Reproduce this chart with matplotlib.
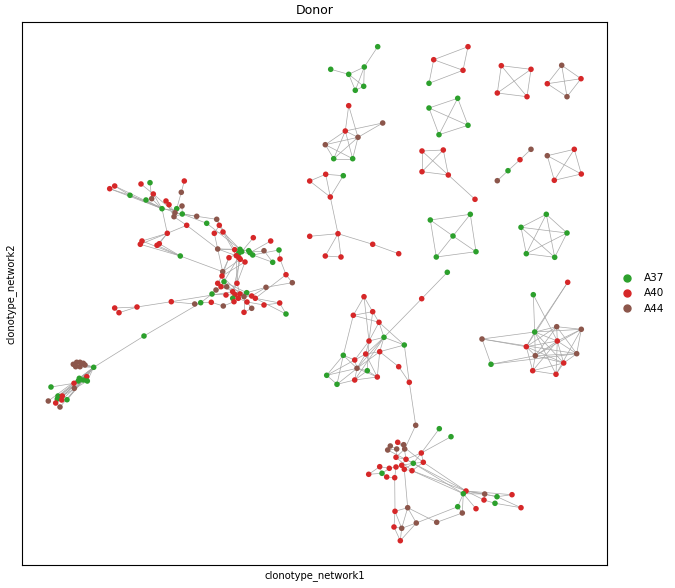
import matplotlib
matplotlib.use("Agg")
import matplotlib.pyplot as plt
from matplotlib.lines import Line2D
from matplotlib.collections import LineCollection

# layout coordinates of the clonotype network, y grows downwards
node_x = [
    # small clusters, top right
    377.7, 330.7, 348.7, 364.3, 355.3, 363.7,
    468.0, 433.7, 463.0, 429.0,
    501.3, 531.0, 497.3, 527.0,
    561.7, 581.0, 547.3, 567.0,
    457.7, 429.0, 468.0, 439.0,
    348.7, 345.3, 382.7, 358.0, 325.3, 333.7, 352.7,
    422.0, 443.3, 422.0, 448.3, 475.0,
    531.0, 520.0, 508.0, 497.3,
    574.3, 547.3, 581.3, 554.3,
    325.7, 309.7, 343.3, 330.3, 338.0, 309.7, 325.3, 341.0, 372.7, 398.7,
    430.3, 470.3, 453.0, 436.3, 476.0,
    546.3, 521.0, 567.0, 526.3, 554.7,
    # middle cluster
    447.3, 421.7, 364.0, 372.7, 353.3, 379.0, 384.0, 404.3, 369.0, 379.7, 365.7,
    343.3, 354.7, 357.0, 367.3, 398.7, 326.7, 337.0, 354.7, 377.3, 409.3,
    # right cluster
    567.7, 533.3, 556.7, 581.3, 534.7, 557.3, 482.0, 526.3, 535.3, 576.7,
    491.0, 563.7, 532.7, 556.0,
    # far left cluster
    144.0, 93.7, 73.3, 76.7, 80.0, 83.3, 75.7, 80.0, 85.0, 86.7, 79.3, 83.3,
    87.3, 78.3, 74.0, 51.0, 74.3, 58.0, 57.3, 62.3, 61.7, 67.0, 48.3, 55.7, 60.0,
    # big left cluster, upper part
    109.7, 114.7, 130.0, 141.0, 150.0, 146.0, 153.3, 151.7, 184.3, 181.3, 166.0,
    169.0, 162.0, 176.7, 182.0, 175.0, 174.0, 182.3, 196.7, 186.7, 167.3, 206.7,
    216.7, 219.3, 214.3, 223.0, 142.0, 140.3, 159.3, 157.0, 180.3,
    # big left cluster, first hub
    253.3, 270.7, 217.7, 234.7, 240.0, 241.7, 238.7, 248.7, 250.0, 252.7, 264.0,
    279.0, 229.0, 236.3, 239.0, 240.3, 245.0, 272.7, 280.0, 286.0, 292.3,
    # big left cluster, second hub
    222.7, 222.0, 237.0, 224.0, 217.7, 221.0, 226.7, 216.0, 212.0, 232.7, 235.0,
    240.0, 246.7, 244.0, 251.7, 255.3, 232.7, 238.3, 234.0, 247.0, 266.0, 251.7,
    244.0, 264.0, 279.7, 286.0, 223.3, 211.3, 200.7, 194.7, 171.3, 137.0, 114.7,
    119.0, 226.0,
    # bottom cluster
    415.7, 439.3, 451.0, 421.3, 397.7, 390.3, 387.7, 403.7, 404.7, 396.7, 396.0,
    406.0, 413.3, 423.3, 401.7, 396.0, 389.3, 379.7, 404.3, 412.0, 382.0, 368.7,
    386.7, 394.7,
    466.0, 463.3, 484.7, 497.0, 512.0, 484.0, 495.0, 521.0, 457.7, 476.0, 462.3,
    436.7, 407.7, 395.0, 416.3, 394.0, 401.7, 400.3,
]
node_y = [
    46.7, 69.3, 74.3, 67.0, 90.3, 86.3,
    46.7, 59.7, 70.3, 83.3,
    65.7, 69.3, 93.0, 96.7,
    65.3, 78.7, 83.7, 96.7,
    98.3, 108.0, 125.3, 134.7,
    105.7, 131.0, 123.0, 137.3, 144.7, 158.7, 158.7,
    151.0, 150.0, 171.7, 175.0, 199.3,
    149.3, 159.7, 170.7, 180.7,
    149.3, 155.7, 174.0, 180.3,
    174.3, 181.0, 175.7, 197.0, 233.7, 236.3, 256.0, 257.0, 244.3, 253.7,
    220.0, 214.3, 236.0, 257.0, 251.7,
    214.3, 227.3, 233.0, 253.7, 257.3,
    272.3, 298.7, 296.7, 311.7, 315.3, 322.3, 337.3, 345.0, 341.0, 351.7, 354.0,
    355.3, 360.0, 368.3, 370.7, 366.7, 375.3, 384.3, 380.0, 377.0, 382.3,
    282.3, 294.7, 326.7, 329.3, 332.0, 341.0, 339.0, 346.7, 355.7, 353.7,
    364.3, 363.0, 370.7, 374.3,
    336.0, 367.3, 364.3, 362.3, 362.3, 363.3, 366.7, 366.7, 365.0, 376.7, 378.3, 380.0,
    381.0, 381.0, 383.3, 387.0, 388.3, 396.0, 399.0, 396.0, 400.0, 399.7, 401.0, 403.0, 407.0,
    188.7, 186.0, 195.3, 184.0, 182.7, 200.0, 194.0, 198.7, 181.0, 192.3, 201.0,
    204.7, 208.7, 208.7, 206.0, 212.7, 216.7, 214.0, 216.3, 225.3, 233.3, 223.3,
    219.3, 225.3, 233.3, 232.0, 241.0, 244.3, 243.7, 245.3, 256.0,
    237.7, 241.0, 249.0, 249.7, 249.3, 251.7, 253.3, 250.7, 252.7, 255.0, 250.7,
    250.0, 257.7, 255.7, 257.7, 259.3, 262.0, 262.3, 259.0, 274.7, 282.7,
    271.7, 276.0, 283.3, 281.7, 283.3, 286.7, 286.7, 290.0, 294.0, 291.7, 294.7,
    294.0, 292.7, 296.7, 296.0, 298.3, 298.3, 298.3, 301.7, 302.0, 287.3, 308.3,
    312.3, 305.0, 303.0, 314.0, 306.0, 302.3, 302.7, 304.0, 301.7, 307.0, 308.0,
    312.7, 295.0,
    425.3, 428.7, 436.7, 453.0, 442.3, 446.0, 450.0, 444.7, 449.0, 449.0, 457.3,
    459.3, 463.3, 462.3, 465.3, 467.0, 468.3, 466.7, 469.3, 470.7, 473.3, 474.3,
    477.0, 477.7,
    491.0, 493.7, 494.0, 496.7, 494.7, 500.0, 503.3, 507.7, 506.7, 508.7, 513.0,
    522.3, 507.7, 511.3, 523.0, 527.0, 528.3, 540.7,
]
node_donor = (
    ["A37"] * 6 + ["A40"] * 3 + ["A37"] + ["A40"] * 4
    + ["A44", "A40", "A40", "A44"] + ["A37"] * 4
    + ["A40", "A40", "A44", "A44", "A44", "A37", "A37"] + ["A40"] * 5
    + ["A44", "A40", "A37", "A44"] + ["A40", "A44", "A40", "A40"]
    + ["A40", "A40", "A37"] + ["A40"] * 7 + ["A37"] * 10
    # middle
    + ["A37", "A40", "A40", "A40", "A40", "A40", "A37", "A37", "A40", "A40", "A40",
       "A37", "A40", "A44", "A37", "A40", "A37", "A37", "A40", "A40", "A40"]
    # right
    + ["A40", "A37", "A44", "A44", "A37", "A40", "A44", "A40", "A44", "A44",
       "A37", "A40", "A40", "A40"]
    # far left
    + ["A37", "A37"] + ["A44"] * 7 + ["A40", "A37", "A37", "A37", "A37", "A40",
       "A37", "A44", "A37", "A37", "A40", "A40", "A37", "A44", "A40", "A44"]
    # big left, upper
    + ["A40", "A40", "A37", "A40", "A37", "A37", "A40", "A44", "A40", "A44", "A40",
       "A40", "A37", "A37", "A44", "A44", "A44", "A37", "A44", "A40", "A40", "A37",
       "A44", "A40", "A40", "A40", "A40", "A40", "A40", "A40", "A37"]
    # big left, hub 1
    + ["A40", "A40", "A44", "A40", "A37", "A37", "A37", "A37", "A37", "A37", "A44",
       "A37", "A40", "A40", "A40", "A40", "A40", "A37", "A40", "A40", "A44"]
    # big left, hub 2
    + ["A44", "A40", "A40", "A37", "A40", "A40", "A44", "A44", "A37", "A40", "A40",
       "A40", "A37", "A44", "A40", "A40", "A37", "A40", "A40", "A40", "A44", "A44",
       "A40", "A40", "A40", "A37", "A44", "A40", "A37", "A44", "A40", "A40", "A40",
       "A40", "A40"]
    # bottom
    + ["A44", "A37", "A37", "A40", "A40", "A44", "A44", "A44", "A44", "A44", "A40",
       "A40", "A37", "A40", "A40", "A40", "A40", "A40", "A40", "A40", "A37", "A40",
       "A40", "A40"]
    + ["A40", "A37", "A44", "A37", "A40", "A40", "A37", "A40", "A37", "A40", "A44",
       "A44", "A44", "A40", "A44", "A40", "A44", "A40"]
)

edges = [
    (0, 3), (1, 2), (2, 3), (2, 4), (2, 5), (3, 4), (3, 5), (4, 5),
    (6, 7), (6, 8), (7, 8), (7, 9), (8, 9),
    (10, 11), (10, 12), (10, 13), (11, 12), (11, 13), (12, 13),
    (14, 15), (14, 16), (14, 17), (15, 16), (15, 17), (16, 17),
    (18, 19), (18, 20), (18, 21), (19, 20), (19, 21), (20, 21),
    (22, 23), (22, 25), (23, 24), (25, 24), (23, 25), (23, 26), (25, 26), (26, 27),
    (26, 28), (23, 27), (23, 28), (25, 27), (25, 28), (27, 28),
    (29, 30), (29, 31), (29, 32), (30, 31), (30, 32), (31, 32), (32, 33),
    (34, 35), (35, 36), (36, 37),
    (38, 39), (38, 40), (38, 41), (39, 40), (39, 41), (40, 41),
    (42, 43), (42, 44), (43, 45), (42, 45), (44, 45), (45, 46), (46, 47), (46, 48),
    (46, 49), (48, 49), (46, 50), (50, 51),
    (52, 53), (52, 55), (53, 56), (55, 56), (54, 52), (54, 53), (54, 55), (54, 56),
    (57, 58), (57, 59), (57, 60), (57, 61), (58, 59), (58, 60), (58, 61), (59, 60),
    (59, 61), (60, 61),
    # middle cluster
    (62, 63), (63, 68), (64, 65), (64, 66), (64, 70), (65, 66), (65, 67), (65, 70),
    (66, 67), (66, 73), (67, 68), (67, 70), (68, 69), (68, 70), (68, 71), (68, 75),
    (68, 72), (69, 71), (69, 82), (70, 72), (70, 74), (71, 77), (71, 75), (71, 72),
    (72, 75), (72, 74), (73, 74), (73, 78), (73, 79), (73, 75), (74, 75), (75, 76),
    (75, 78), (75, 79), (75, 80), (75, 81), (76, 80), (76, 81), (77, 82), (78, 79),
    (78, 74), (79, 80), (80, 81), (81, 71), (70, 76), (69, 67), (68, 80), (72, 81),
    # right cluster
    (83, 87), (83, 90), (84, 87), (84, 88), (85, 86), (85, 87), (85, 88), (85, 90),
    (85, 91), (85, 92), (86, 87), (86, 88), (86, 92), (86, 91), (87, 89), (87, 88),
    (87, 90), (87, 91), (87, 94), (87, 96), (88, 90), (88, 91), (88, 92), (88, 94),
    (88, 95), (88, 96), (89, 90), (89, 93), (89, 92), (90, 91), (90, 94), (91, 92),
    (91, 93), (91, 94), (91, 95), (92, 94), (92, 93), (94, 95), (94, 96), (95, 96),
    (90, 95), (86, 96),
    # far left cluster
    (97, 98), (98, 99), (98, 101), (98, 103), (98, 105), (98, 106), (98, 107),
    (98, 109), (98, 111), (98, 113), (98, 114), (98, 116), (98, 118), (98, 119),
    (98, 120), (98, 121), (111, 112), (106, 114), (107, 115), (109, 116),
    (108, 117), (110, 120), (106, 118), (97, 202),
    # big left cluster
    (122, 124), (123, 124), (122, 134), (123, 134), (124, 134), (124, 137),
    (125, 128), (126, 129), (127, 134), (128, 134), (129, 134), (128, 137),
    (130, 131), (131, 135), (132, 133), (133, 137), (132, 138), (134, 142),
    (134, 135), (135, 137), (136, 137), (136, 139), (137, 139), (138, 139),
    (139, 140), (140, 144), (137, 140), (139, 143), (143, 157), (144, 156),
    (141, 138), (141, 142), (141, 155), (142, 148), (142, 149), (142, 150),
    (142, 151), (148, 152), (149, 152), (150, 152), (151, 152), (152, 174),
    (144, 145), (145, 146), (145, 147), (146, 147), (146, 155), (147, 157),
    (147, 166), (155, 166), (155, 174), (153, 158), (154, 161), (156, 157),
    (157, 158), (158, 159), (157, 160), (160, 161), (161, 162), (160, 163),
    (162, 164), (158, 165), (159, 166), (166, 167), (167, 168), (168, 169),
    (162, 170), (163, 170), (164, 171), (171, 172), (172, 173), (169, 175),
    (166, 176), (168, 174), (165, 174), (167, 176), (158, 177), (155, 157),
    (155, 160), (156, 162), (165, 175), (168, 183), (169, 176),
    (174, 175), (175, 177), (175, 178), (176, 183), (177, 179), (178, 179),
    (179, 180), (180, 181), (181, 182), (180, 183), (183, 184), (184, 185),
    (185, 186), (186, 187), (187, 188), (188, 189), (184, 190), (190, 191),
    (191, 192), (191, 193), (193, 195), (195, 196), (193, 197), (197, 198),
    (198, 199), (194, 173), (194, 186), (194, 188), (189, 198), (189, 199),
    (187, 196), (208, 184), (208, 182), (200, 192), (200, 201), (201, 202),
    (202, 203), (182, 202), (203, 204), (204, 205), (205, 206), (205, 207),
    (206, 207), (204, 183), (172, 189), (176, 185), (183, 188), (179, 185),
    (177, 186), (178, 188), (175, 185),
    # bottom cluster
    (209, 82), (209, 217), (210, 212), (211, 212), (212, 221), (212, 222),
    (212, 220), (213, 216), (213, 217), (214, 218), (215, 218), (216, 217),
    (216, 220), (217, 219), (218, 219), (219, 220), (220, 221), (221, 222),
    (220, 223), (221, 223), (221, 227), (223, 224), (224, 225), (225, 226),
    (226, 229), (229, 230), (229, 231), (231, 232), (227, 228), (223, 227),
    (222, 228), (225, 229), (224, 232), (226, 230), (221, 233), (222, 233),
    (228, 233), (221, 234), (228, 234), (232, 246), (227, 245), (215, 221),
    (213, 222), (219, 228),
    (233, 235), (233, 236), (234, 235), (234, 241), (234, 243), (235, 236),
    (236, 237), (235, 238), (238, 239), (239, 240), (236, 240), (234, 242),
    (241, 243), (233, 238), (233, 237),
    (245, 246), (245, 247), (245, 249), (246, 248), (246, 249), (248, 249),
    (249, 250), (248, 250), (247, 249), (247, 250), (247, 241), (244, 243),
    (244, 245),
]

donors = ["A37", "A40", "A44"]
donor_colors = ["#2ca02c", "#d62728", "#8c564b"]

fig = plt.figure(figsize=(6.75, 5.88), dpi=100)
ax = fig.add_axes([22 / 675, 23 / 588, 585 / 675, 543 / 588])

segs = [[(node_x[a], node_y[a]), (node_x[b], node_y[b])] for a, b in edges]
ax.add_collection(LineCollection(segs, colors="#a8a8a8", linewidths=0.5, zorder=1))

cmap = dict(zip(donors, donor_colors))
ax.scatter(node_x, node_y, c=[cmap[d] for d in node_donor], s=16,
           linewidths=0, zorder=2)

ax.set_xlim(22, 607)
ax.set_ylim(565, 22)
ax.set_xticks([])
ax.set_yticks([])
ax.set_title("Donor", fontsize=9)
ax.set_xlabel("clonotype_network1", fontsize=7.2)
ax.set_ylabel("clonotype_network2", fontsize=7.2)

handles = [Line2D([], [], marker="o", linestyle="", color=c, markersize=5)
           for c in donor_colors]
ax.legend(handles, donors, loc="center left", bbox_to_anchor=(1, 0.5),
          frameon=False, fontsize=7.5, handletextpad=0.6)

fig.savefig("out.png", dpi=100)
